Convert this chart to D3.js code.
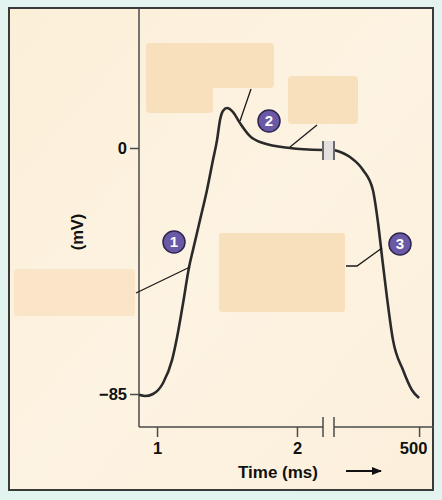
<!DOCTYPE html>
<html>
<head>
<meta charset="utf-8">
<script src="https://cdn.jsdelivr.net/npm/d3@7"></script>
<style>
	body { margin: 0; background: #e2f3f0; }
	svg { display: block; font-family: "Liberation Sans", Arial, sans-serif; }
</style>
</head>
<body>
<svg id="chart"></svg>
<script>
// action potential (time in ms, voltage in mV)
let timeEarly = [0.871, 0.914, 0.971, 1.043, 1.107, 1.143, 1.186, 1.229, 1.257, 1.307, 1.357, 1.40, 1.429, 1.45, 1.471, 1.50, 1.543, 1.593, 1.664, 1.757, 1.95, 2.186];
let voltEarly = [-85.3, -85.7, -85.0, -81.2, -73.3, -65.4, -53.6, -41.1, -35.2, -24.9, -14.5, -4.1, 2.8, 9.7, 12.8, 13.8, 12.4, 8.6, 4.1, 1.7, 0, -0.7];
let timeLate = [203.5, 259, 304.5, 339, 357, 371, 388, 409, 444, 475, 500];
let voltLate = [-0.7, -3.1, -7.6, -14.5, -25.9, -37.7, -51.5, -66.3, -76.7, -83.6, -86.4];

let xTicks = [1, 2, 500];
let yTicks = [0, -85];
let phaseNames = ['1', '2', '3'];

let width = 442;
let height = 500;

let svg = d3.select('#chart')
	.attr('width', width)
	.attr('height', height);

// panel background
let grad = svg.append('defs').append('linearGradient')
	.attr('id', 'bg').attr('x1', 0).attr('y1', 0).attr('x2', 1).attr('y2', 1);
grad.append('stop').attr('offset', '0%').attr('stop-color', '#fcefd8');
grad.append('stop').attr('offset', '50%').attr('stop-color', '#fdf3e2');
grad.append('stop').attr('offset', '100%').attr('stop-color', '#fcf0dc');

svg.append('rect')
	.attr('x', 9).attr('y', 8)
	.attr('width', 424).attr('height', 482)
	.attr('fill', 'url(#bg)')
	.attr('stroke', '#3a3a3a').attr('stroke-width', 2);

// broken time axis: two linear pieces glued together
let x = d3.scaleLinear()
	.domain([0.871, 2.186, 203.5, 552])
	.range([139, 323, 334, 434]);
let y = d3.scaleLinear()
	.domain([-85, 0])
	.range([394, 148]);

let axisColor = '#4a4a4a';
let yTop = 8;
let yBase = 427;

// y axis
let yAxis = svg.append('g')
	.attr('transform', 'translate(139,0)')
	.call(d3.axisLeft(y).tickValues(yTicks).tickSize(9).tickPadding(3));
yAxis.select('.domain').remove();
yAxis.selectAll('line').attr('stroke', axisColor).attr('stroke-width', 1.5);
yAxis.selectAll('text')
	.attr('fill', '#111')
	.style('font-size', '16.5px')
	.style('font-weight', 'bold');
svg.append('line')
	.attr('x1', 139).attr('x2', 139)
	.attr('y1', yTop).attr('y2', yBase)
	.attr('stroke', axisColor).attr('stroke-width', 1.5);

// x axis
let xAxis = svg.append('g')
	.attr('transform', 'translate(0,' + yBase + ')')
	.call(d3.axisBottom(x).tickValues(xTicks).tickSize(10).tickPadding(5).tickFormat(d3.format('d')));
xAxis.select('.domain').remove();
xAxis.selectAll('line').attr('stroke', axisColor).attr('stroke-width', 1.5);
xAxis.selectAll('text')
	.attr('fill', '#111')
	.attr('dx', d => d === 500 ? -6 : 0)
	.style('font-size', '16.5px')
	.style('font-weight', 'bold');

svg.append('line')
	.attr('x1', x(0.871)).attr('x2', x(2.186))
	.attr('y1', yBase).attr('y2', yBase)
	.attr('stroke', axisColor).attr('stroke-width', 1.5);
svg.append('line')
	.attr('x1', x(203.5)).attr('x2', x(552))
	.attr('y1', yBase).attr('y2', yBase)
	.attr('stroke', axisColor).attr('stroke-width', 1.5);
[2.186, 203.5].forEach(t => {
	svg.append('line')
		.attr('x1', x(t)).attr('x2', x(t))
		.attr('y1', yBase - 10).attr('y2', yBase + 10)
		.attr('stroke', axisColor).attr('stroke-width', 1.5);
});

svg.append('text')
	.attr('x', 278).attr('y', 478)
	.attr('text-anchor', 'middle')
	.style('font-size', '17px').style('font-weight', 'bold')
	.attr('fill', '#111')
	.text('Time (ms)');

svg.append('defs').append('marker')
	.attr('id', 'head').attr('viewBox', '0 0 10 10')
	.attr('refX', 9).attr('refY', 5)
	.attr('markerWidth', 5).attr('markerHeight', 5)
	.attr('orient', 'auto')
	.append('path').attr('d', 'M0,1 L10,5 L0,9 z').attr('fill', '#111');
svg.append('line')
	.attr('x1', 346).attr('x2', 381)
	.attr('y1', 471).attr('y2', 471)
	.attr('stroke', '#111').attr('stroke-width', 2)
	.attr('marker-end', 'url(#head)');

svg.append('text')
	.attr('transform', 'translate(83,232) rotate(-90)')
	.attr('text-anchor', 'middle')
	.style('font-size', '16.5px').style('font-weight', 'bold')
	.attr('fill', '#111')
	.text('(mV)');

// blank label boxes
let boxColor = '#f9e0bd';
svg.append('path')
	.attr('d', 'M150,43 H270 Q274,43 274,47 V84 Q274,88 270,88 H213 V109 Q213,113 209,113 H150 Q146,113 146,109 V47 Q146,43 150,43 Z')
	.attr('fill', boxColor);
svg.append('rect').attr('x', 288).attr('y', 76).attr('width', 70).attr('height', 48).attr('rx', 4).attr('fill', boxColor);
svg.append('rect').attr('x', 219).attr('y', 233).attr('width', 126).attr('height', 79).attr('rx', 3).attr('fill', boxColor);
svg.append('rect').attr('x', 14).attr('y', 269).attr('width', 121).attr('height', 47).attr('rx', 3).attr('fill', '#fae5c8');

// voltage trace
let line = d3.line()
	.x(d => x(d[0]))
	.y(d => y(d[1]))
	.curve(d3.curveMonotoneX);

let early = timeEarly.map((t, i) => [t, voltEarly[i]]);
let late = timeLate.map((t, i) => [t, voltLate[i]]);

[early, late].forEach(seg => {
	svg.append('path')
		.datum(seg)
		.attr('d', line)
		.attr('fill', 'none')
		.attr('stroke', '#2a2a2a')
		.attr('stroke-width', 2.6);
});

// break marker on the trace
svg.append('rect')
	.attr('x', x(2.186)).attr('y', y(-0.7) - 9)
	.attr('width', x(203.5) - x(2.186)).attr('height', 19)
	.attr('fill', '#e4e0df');
[2.186, 203.5].forEach(t => {
	svg.append('line')
		.attr('x1', x(t)).attr('x2', x(t))
		.attr('y1', y(-0.7) - 9).attr('y2', y(-0.7) + 10)
		.attr('stroke', '#6a6a6a').attr('stroke-width', 2);
});

// leader lines from boxes to the trace
let leaders = [
	[[251, 89], [240, 121]],
	[[317, 125], [290, 147]],
	[[346, 266], [357, 266], [382, 248]],
	[[136, 293], [190, 267]]
];
leaders.forEach(pts => {
	svg.append('path')
		.attr('d', d3.line()(pts))
		.attr('fill', 'none')
		.attr('stroke', '#1a1a1a')
		.attr('stroke-width', 1.3);
});

// phase markers
let markerPos = [[174, 242], [269, 121], [400, 244]];
let markers = svg.selectAll('.phase')
	.data(phaseNames)
	.enter().append('g')
	.attr('class', 'phase')
	.attr('transform', (d, i) => 'translate(' + markerPos[i][0] + ',' + markerPos[i][1] + ')');
markers.append('circle')
	.attr('r', 11)
	.attr('fill', '#6a5aa6')
	.attr('stroke', '#2e2550')
	.attr('stroke-width', 1.5);
markers.append('text')
	.attr('text-anchor', 'middle')
	.attr('dy', '0.36em')
	.attr('fill', '#fff')
	.style('font-size', '15px')
	.style('font-weight', 'bold')
	.text(d => d);
</script>
</body>
</html>
